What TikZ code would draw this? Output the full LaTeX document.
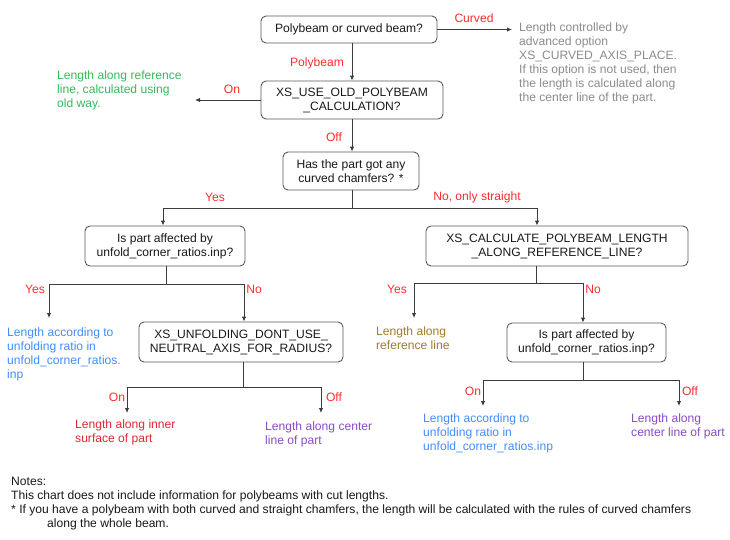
\documentclass[tikz,border=0pt]{standalone}
\usepackage{fontspec}
\setmainfont{Liberation Sans}
\usetikzlibrary{arrows.meta}
\definecolor{lblred}{RGB}{255,45,45}
\definecolor{boxgray}{RGB}{90,90,90}
\definecolor{linegray}{RGB}{60,60,60}
\definecolor{txtgray}{RGB}{140,140,140}
\definecolor{txtgreen}{RGB}{50,190,90}
\definecolor{txtblue}{RGB}{70,140,255}
\definecolor{txtgold}{RGB}{160,125,40}
\definecolor{txtred}{RGB}{225,40,50}
\definecolor{txtpurple}{RGB}{140,75,200}
\begin{document}
\begin{tikzpicture}[x=1pt,y=-1pt,font=\fontsize{12.1}{14}\selectfont,
 box/.style={draw=boxgray, rounded corners=5pt, line width=0.9pt, align=center, inner sep=0pt, text=black!90},
 conn/.style={draw=linegray, line width=0.9pt},
 arr/.style={conn, -{Latex[length=5pt,width=4.5pt]}},
 lbl/.style={text=lblred, inner sep=0pt},
 txt/.style={align=left, inner sep=0pt, anchor=north west}]
\useasboundingbox[fill=white] (0,0) rectangle (730,539);

% boxes
\node[box, minimum width=176, minimum height=27] (q1) at (349,29.5) {Polybeam or curved beam?};
\node[box, minimum width=182, minimum height=38] (q2) at (352,100) {XS\_USE\_OLD\_POLYBEAM\\\_CALCULATION?};
\node[box, minimum width=136, minimum height=38] (q3) at (351,171) {Has the part got any\\curved chamfers? *};
\node[box, minimum width=160, minimum height=40] (q4) at (165,246) {Is part affected by\\unfold\_corner\_ratios.inp?};
\node[box, minimum width=262, minimum height=40] (q5) at (557,246) {XS\_CALCULATE\_POLYBEAM\_LENGTH\\\_ALONG\_REFERENCE\_LINE?};
\node[box, minimum width=204, minimum height=40] (q6) at (241,342) {XS\_UNFOLDING\_DONT\_USE\_\\NEUTRAL\_AXIS\_FOR\_RADIUS?};
\node[box, minimum width=159, minimum height=39] (q7) at (586.5,342.5) {Is part affected by\\unfold\_corner\_ratios.inp?};

% result texts
\node[txt, text=txtgray] (rcurved) at (519,23) {Length controlled by\\advanced option\\XS\_CURVED\_AXIS\_PLACE.\\If this option is not used, then\\the length is calculated along\\the center line of the part.};
\node[txt, text=txtgreen] (rold) at (57,71) {Length along reference\\line, calculated using\\old way.};
\node[txt, text=txtblue] (rratio1) at (7,328) {Length according to\\unfolding ratio in\\unfold\_corner\_ratios.\\inp};
\node[txt, text=txtgold] (rref) at (376,327) {Length along\\reference line};
\node[txt, text=txtred] (rinner) at (75,420) {Length along inner\\surface of part};
\node[txt, text=txtpurple] (rcenter1) at (265,422) {Length along center\\line of part};
\node[txt, text=txtblue] (rratio2) at (423,414) {Length according to\\unfolding ratio in\\unfold\_corner\_ratios.inp};
\node[txt, text=txtpurple] (rcenter2) at (631,414) {Length along\\center line of part};
\node[txt, text=black!90] (notes) at (11,477) {Notes:\\This chart does not include information for polybeams with cut lengths.\\* If you have a polybeam with both curved and straight chamfers, the length will be calculated with the rules of curved chamfers\\\hspace*{36pt}along the whole beam.};

% coordinates for free ends and junctions
\coordinate (e1) at (512,29.5);
\coordinate (e2) at (195,100);
\coordinate (j3) at (352,208);
\coordinate (j4) at (166,284);
\coordinate (e4) at (49,318);
\coordinate (j5) at (536,283);
\coordinate (e5) at (414,318);
\coordinate (j6) at (243,387);
\coordinate (e6a) at (127,413);
\coordinate (e6b) at (321,413);
\coordinate (j7) at (583,380);
\coordinate (e7a) at (483,406);
\coordinate (e7b) at (679,406);

% connectors
\draw[arr] (q1.east) -- (e1);
\draw[arr] (q2.north |- q1.south) -- (q2.north);
\draw[arr] (q2.west) -- (e2);
\draw[arr] (q2.south) -- (q2.south |- q3.north);
\draw[conn] (j3 |- q3.south) -- (j3);
\draw[arr] (j3) -| ([xshift=-2pt]q4.north);
\draw[arr] (j3) -| ([xshift=-20pt]q5.north);
\draw[conn] (j4 |- q4.south) -- (j4);
\draw[arr] (j4) -| (e4);
\draw[arr] (j4) -| ([xshift=3pt]q6.north);
\draw[conn] (j5 |- q5.south) -- (j5);
\draw[arr] (j5) -| (e5);
\draw[arr] (j5) -| ([xshift=-3.5pt]q7.north);
\draw[conn] (j6 |- q6.south) -- (j6);
\draw[arr] (j6) -| (e6a);
\draw[arr] (j6) -| (e6b);
\draw[conn] (j7 |- q7.south) -- (j7);
\draw[arr] (j7) -| (e7a);
\draw[arr] (j7) -| (e7b);

% labels
\node[lbl] (lcurved) at (474,18) {Curved};
\node[lbl] (lpoly) at (317,63) {Polybeam};
\node[lbl] (lon2) at (232,89) {On};
\node[lbl] (loff2) at (334,137) {Off};
\node[lbl] (lyes3) at (215,197) {Yes};
\node[lbl] (lno3) at (477,197) {No, only straight};
\node[lbl] (lyes4) at (35,289) {Yes};
\node[lbl] (lno4) at (254,289) {No};
\node[lbl] (lyes5) at (397,289) {Yes};
\node[lbl] (lno5) at (593,289) {No};
\node[lbl] (lon6) at (117,397) {On};
\node[lbl] (loff6) at (334,397) {Off};
\node[lbl] (lon7) at (473,391) {On};
\node[lbl] (loff7) at (690,391) {Off};
\end{tikzpicture}
\end{document}
